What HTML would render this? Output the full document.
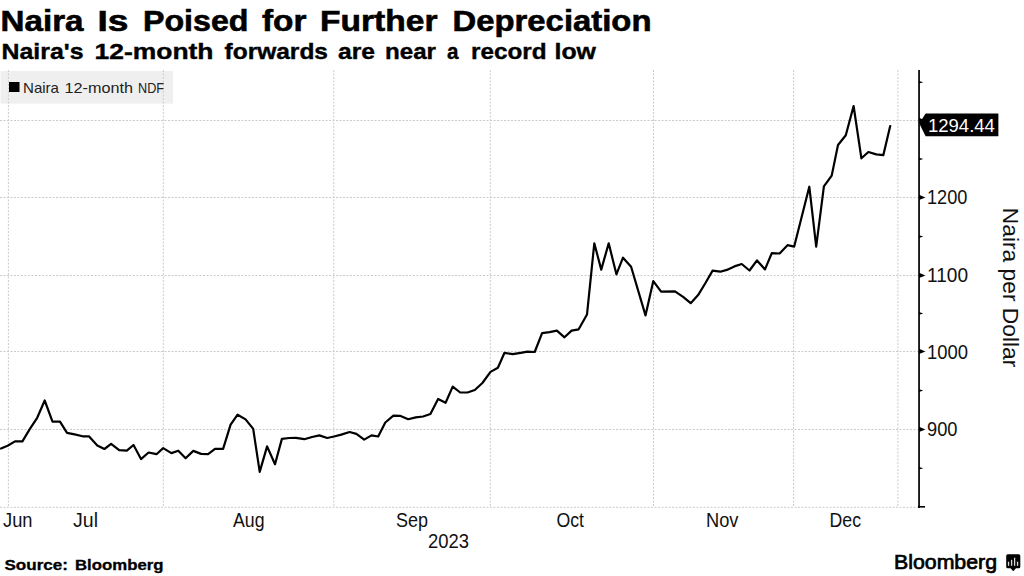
<!DOCTYPE html>
<html><head><meta charset="utf-8"><style>
html,body{margin:0;padding:0;background:#fff;width:1024px;height:576px;overflow:hidden}
svg{position:absolute;left:0;top:0}
text{font-family:"Liberation Sans",sans-serif}
</style></head><body>
<svg width="1024" height="576" viewBox="0 0 1024 576">
<rect width="1024" height="576" fill="#fff"/>
<text x="0.5" y="31.3" font-size="30.1" font-weight="bold" stroke="#000" stroke-width="0.6" textLength="83.0" lengthAdjust="spacingAndGlyphs" fill="#000">Naira</text>
<text x="97.5" y="31.3" font-size="30.1" font-weight="bold" stroke="#000" stroke-width="0.6" textLength="31.0" lengthAdjust="spacingAndGlyphs" fill="#000">Is</text>
<text x="143.0" y="31.3" font-size="30.1" font-weight="bold" stroke="#000" stroke-width="0.6" textLength="105.5" lengthAdjust="spacingAndGlyphs" fill="#000">Poised</text>
<text x="262.0" y="31.3" font-size="30.1" font-weight="bold" stroke="#000" stroke-width="0.6" textLength="44.5" lengthAdjust="spacingAndGlyphs" fill="#000">for</text>
<text x="320.0" y="31.3" font-size="30.1" font-weight="bold" stroke="#000" stroke-width="0.6" textLength="117.5" lengthAdjust="spacingAndGlyphs" fill="#000">Further</text>
<text x="452.5" y="31.3" font-size="30.1" font-weight="bold" stroke="#000" stroke-width="0.6" textLength="199.0" lengthAdjust="spacingAndGlyphs" fill="#000">Depreciation</text>
<text x="1.5" y="58.9" font-size="22.3" font-weight="bold" stroke="#000" stroke-width="0.4" textLength="82.0" lengthAdjust="spacingAndGlyphs" fill="#000">Naira's</text>
<text x="94.5" y="58.9" font-size="22.3" font-weight="bold" stroke="#000" stroke-width="0.4" textLength="119.0" lengthAdjust="spacingAndGlyphs" fill="#000">12-month</text>
<text x="224.5" y="58.9" font-size="22.3" font-weight="bold" stroke="#000" stroke-width="0.4" textLength="103.5" lengthAdjust="spacingAndGlyphs" fill="#000">forwards</text>
<text x="338.0" y="58.9" font-size="22.3" font-weight="bold" stroke="#000" stroke-width="0.4" textLength="37.0" lengthAdjust="spacingAndGlyphs" fill="#000">are</text>
<text x="385.0" y="58.9" font-size="22.3" font-weight="bold" stroke="#000" stroke-width="0.4" textLength="51.0" lengthAdjust="spacingAndGlyphs" fill="#000">near</text>
<text x="447.0" y="58.9" font-size="22.3" font-weight="bold" stroke="#000" stroke-width="0.4" textLength="11.5" lengthAdjust="spacingAndGlyphs" fill="#000">a</text>
<text x="471.0" y="58.9" font-size="22.3" font-weight="bold" stroke="#000" stroke-width="0.4" textLength="75.5" lengthAdjust="spacingAndGlyphs" fill="#000">record</text>
<text x="554.5" y="58.9" font-size="22.3" font-weight="bold" stroke="#000" stroke-width="0.4" textLength="41.5" lengthAdjust="spacingAndGlyphs" fill="#000">low</text>
<rect x="0.5" y="71" width="172.5" height="32.6" fill="#efefef"/>
<g stroke="#cbcbcb" stroke-width="1" stroke-dasharray="2,1.5" fill="none">
<line x1="0" y1="120.5" x2="918" y2="120.5"/><line x1="0" y1="197.5" x2="918" y2="197.5"/><line x1="0" y1="275.5" x2="918" y2="275.5"/><line x1="0" y1="351.5" x2="918" y2="351.5"/><line x1="0" y1="429.5" x2="918" y2="429.5"/><line x1="0" y1="507.3" x2="918" y2="507.3"/><line x1="8.4" y1="70" x2="8.4" y2="507"/><line x1="163.3" y1="70" x2="163.3" y2="507"/><line x1="333.8" y1="70" x2="333.8" y2="507"/><line x1="490.3" y1="70" x2="490.3" y2="507"/><line x1="653.5" y1="70" x2="653.5" y2="507"/><line x1="793.6" y1="70" x2="793.6" y2="507"/><line x1="897.9" y1="70" x2="897.9" y2="507"/>
</g>
<rect x="9" y="82" width="10.5" height="10" fill="#000"/>
<text x="23.0" y="92.7" font-size="14.8" textLength="36.0" lengthAdjust="spacingAndGlyphs" fill="#222">Naira</text><text x="64.5" y="92.7" font-size="14.8" textLength="68.5" lengthAdjust="spacingAndGlyphs" fill="#222">12-month</text><text x="138.0" y="92.7" font-size="14.8" textLength="26.0" lengthAdjust="spacingAndGlyphs" fill="#222">NDF</text>
<path d="M1,448.6 L7.6,445.7 L15,441.4 L22.4,441.4 L29.9,428.9 L37.2,417.8 L44.7,400.5 L52.5,421.7 L60,421.7 L67,432.8 L74.6,434.4 L82.6,436.3 L88.9,436.3 L97.3,445.4 L104.4,449 L111.1,443.9 L119.2,450.2 L126.8,450.7 L133.5,445 L141,459.1 L148.6,452.5 L156.5,454.2 L163.2,448.1 L171.4,453.1 L178.3,450.7 L185.6,458.3 L193.3,450.9 L201.1,453.9 L208.1,454.2 L215,448.9 L223.1,448.9 L230.6,424.7 L237.6,414.7 L245.6,419.4 L253.2,428.9 L259.7,471.9 L267.1,446.4 L275,464.2 L281.9,438.9 L289.2,438 L295.9,437.8 L304.3,439.2 L312.1,437 L319.4,435.4 L327.2,438 L334,436.5 L341.25,434.6 L349.6,432 L356.4,433.9 L364.2,439.6 L371.5,435.4 L378.2,436.5 L385.3,422.5 L393.4,415.6 L400,415.8 L408.2,419.2 L415.8,417.4 L423.1,416.5 L430.4,414 L438.1,399 L445.6,402.8 L452.7,386.6 L460.2,392.5 L467.5,392.5 L474.8,390 L482.4,383 L490.5,371.9 L497.9,367.8 L504.5,352.8 L512.6,354.2 L520.7,352.8 L527.4,351.7 L534.7,352 L542.1,333.2 L549.5,332.1 L556.9,330.6 L564.5,337.3 L571.6,330.6 L578.7,329.3 L587,314.5 L594.3,243.3 L601.25,269.6 L608.7,243.3 L616.4,274.3 L623,257.7 L631.1,266.8 L645.5,315.4 L653.3,281.1 L661.1,291.6 L675,291.4 L683.1,296.9 L690.7,303.2 L698.1,295.1 L705.3,283.3 L712.6,270.6 L720.3,271.7 L726.8,269.9 L734.4,266.4 L741.7,264 L749.5,270.5 L757,260.4 L765,269.4 L771.8,253.1 L779.6,253.5 L787.5,245.2 L794.2,246.6 L809.3,186.7 L816.2,246.7 L823.9,186.3 L831.7,175.6 L838,145 L845.8,135.3 L853.6,106 L861.4,158.3 L868.4,152.05 L876.25,154.4 L883.3,155.2 L890.2,126" fill="none" stroke="#000" stroke-width="2.2" stroke-linejoin="round" stroke-linecap="round"/>
<g fill="#000">
<rect x="918.2" y="70" width="1.7" height="438"/>
<rect x="918" y="506" width="7" height="1.6"/>
<path d="M919,117.8 L925.5,120.4 L919,123.0 Z"/><path d="M919,194.8 L925.5,197.4 L919,200.0 Z"/><path d="M919,272.8 L925.5,275.4 L919,278.0 Z"/><path d="M919,348.8 L925.5,351.4 L919,354.0 Z"/><path d="M919,426.8 L925.5,429.4 L919,432.0 Z"/>
</g>
<g fill="#000"><path d="M919,81.0 L923.3,82.3 L919,83.6 Z"/><path d="M919,157.7 L923.3,159.0 L919,160.3 Z"/><path d="M919,235.3 L923.3,236.6 L919,237.9 Z"/><path d="M919,312.1 L923.3,313.4 L919,314.7 Z"/><path d="M919,389.3 L923.3,390.6 L919,391.9 Z"/><path d="M919,467.0 L923.3,468.3 L919,469.6 Z"/></g>
<text x="927.0" y="204.1" font-size="20.2" textLength="40.5" lengthAdjust="spacingAndGlyphs" fill="#111">1200</text>
<text x="927.0" y="281.9" font-size="20.2" textLength="41.0" lengthAdjust="spacingAndGlyphs" fill="#111">1100</text>
<text x="927.0" y="358.6" font-size="20.2" textLength="41.0" lengthAdjust="spacingAndGlyphs" fill="#111">1000</text>
<text x="927.0" y="436.1" font-size="20.2" textLength="30.5" lengthAdjust="spacingAndGlyphs" fill="#111">900</text>
<text x="3.0" y="526.7" font-size="19.3" textLength="29.5" lengthAdjust="spacingAndGlyphs" fill="#111">Jun</text>
<text x="73.0" y="526.7" font-size="19.3" textLength="25.0" lengthAdjust="spacingAndGlyphs" fill="#111">Jul</text>
<text x="233.0" y="526.7" font-size="19.3" textLength="31.5" lengthAdjust="spacingAndGlyphs" fill="#111">Aug</text>
<text x="396.0" y="526.7" font-size="19.3" textLength="32.0" lengthAdjust="spacingAndGlyphs" fill="#111">Sep</text>
<text x="428.0" y="548.4" font-size="19.3" textLength="41.0" lengthAdjust="spacingAndGlyphs" fill="#111">2023</text>
<text x="556.5" y="526.7" font-size="19.3" textLength="27.5" lengthAdjust="spacingAndGlyphs" fill="#111">Oct</text>
<text x="706.0" y="526.7" font-size="19.3" textLength="32.5" lengthAdjust="spacingAndGlyphs" fill="#111">Nov</text>
<text x="829.5" y="526.7" font-size="19.3" textLength="31.5" lengthAdjust="spacingAndGlyphs" fill="#111">Dec</text>
<path d="M925.6,113.6 L919.3,123.5 L925.6,136.3 L998.4,136.3 L998.4,113.6 Z" fill="#000"/>
<text x="928" y="132.2" font-size="18.5" fill="#fff">1294.44</text>
<text transform="translate(1002.9,207.8) rotate(90)" x="0" y="0" font-size="22.5" textLength="159.5" lengthAdjust="spacingAndGlyphs" fill="#111">Naira per Dollar</text>

<text x="894.0" y="568.8" font-size="20" font-weight="normal" stroke="#000" stroke-width="0.7" textLength="103.0" lengthAdjust="spacingAndGlyphs" fill="#000">Bloomberg</text>
<text x="4.5" y="569.8" font-size="14.6" font-weight="bold" stroke="#000" stroke-width="0.3" textLength="63.5" lengthAdjust="spacingAndGlyphs" fill="#000">Source:</text>
<text x="75.0" y="569.8" font-size="14.6" font-weight="bold" stroke="#000" stroke-width="0.3" textLength="88.5" lengthAdjust="spacingAndGlyphs" fill="#000">Bloomberg</text>

<g>
<path d="M1007.7,554.2 H1018.8 A1.5,1.5 0 0 1 1020.3,555.7 V566.8 A1.5,1.5 0 0 1 1018.8,568.3 H1016 L1013.25,571.2 L1010.5,568.3 H1007.7 A1.5,1.5 0 0 1 1006.2,566.8 V555.7 A1.5,1.5 0 0 1 1007.7,554.2 Z" fill="#000"/>
<g fill="#d8d8d8">
<rect x="1007.9" y="561.7" width="1.3" height="4.1"/>
<rect x="1010.95" y="559.8" width="1.3" height="6"/>
<rect x="1013.95" y="557.7" width="1.3" height="8.1"/>
<rect x="1016.9" y="561.7" width="1.3" height="4.1"/>
</g>
</g>
</svg>
</body></html>
